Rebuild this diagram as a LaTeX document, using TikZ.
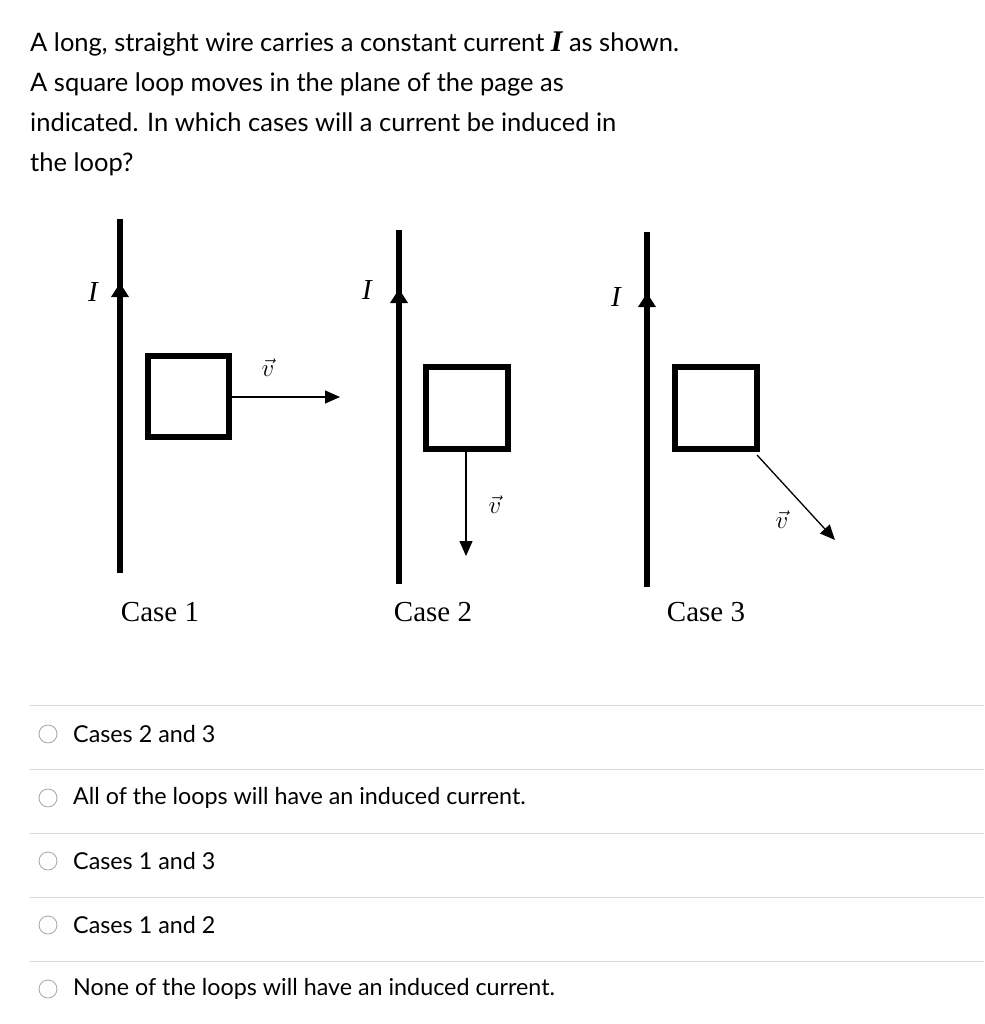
\documentclass[tikz,border=0pt]{standalone}
\usepackage{fontspec}
\setmainfont{Lato}
\newfontfamily\tnr{Liberation Serif}
\usetikzlibrary{arrows.meta}
\begin{document}
\begin{tikzpicture}[x=1pt,y=-1pt,
  wire/.style={line width=5.5pt},
  loopsq/.style={line width=6pt},
  vel/.style={line width=1.3pt,-{Triangle[length=15pt,width=13pt]}},
  lbl/.style={font=\tnr\fontsize{29}{32}\selectfont,inner sep=0},
  vlbl/.style={font=\tnr\fontsize{27}{30}\selectfont,inner sep=0},
  qtxt/.style={anchor=base west,inner sep=0,font=\fontsize{25.5}{30}\selectfont},
  opt/.style={anchor=west,inner sep=0,font=\fontsize{23.3}{28}\selectfont},
  rad/.style={draw=gray!70,line width=0.8pt,circle,minimum size=18pt,inner sep=0},
  sep/.style={draw=gray!30,line width=0.8pt}]
\useasboundingbox (0,0) rectangle (984,1024);
\fill[white] (0,0) rectangle (984,1024);
% question
\node[qtxt] (q1) at (30,52) {A long, straight wire carries a constant current {\tnr\bfseries\itshape\fontsize{30}{30}\selectfont I} as shown.};
\node[qtxt] (q2) at (30,92) {A square loop moves in the plane of the page as};
\node[qtxt] (q3) at (30,132) {indicated. In which cases will a current be induced in};
\node[qtxt] (q4) at (30,172) {the loop?};
% Case 1
\coordinate (w1t) at (120,219); \coordinate (w1b) at (120,573);
\draw[wire] (w1b) -- (w1t);
\fill (120,283) -- (111,297) -- (129,297) -- cycle;
\node[lbl] (I1) at (93,292) {\itshape I};
\draw[loopsq] (148,356) rectangle (229,437);
\coordinate (a1s) at (232,397); \coordinate (a1e) at (340,397);
\draw[vel] (a1s) -- (a1e);
\node[vlbl] (v1) at (268,368) {$\vec{v}$};
\node[lbl] (c1) at (160,612) {Case 1};
% Case 2
\coordinate (w2t) at (399,230); \coordinate (w2b) at (399,584);
\draw[wire] (w2b) -- (w2t);
\fill (399,289) -- (390,303) -- (408,303) -- cycle;
\node[lbl] (I2) at (367,290) {\itshape I};
\draw[loopsq] (426,367) rectangle (508,449);
\coordinate (a2s) at (466,452); \coordinate (a2e) at (466,556);
\draw[vel] (a2s) -- (a2e);
\node[vlbl] (v2) at (495,505) {$\vec{v}$};
\node[lbl] (c2) at (433,612) {Case 2};
% Case 3
\coordinate (w3t) at (647,232); \coordinate (w3b) at (647,587);
\draw[wire] (w3b) -- (w3t);
\fill (647,293) -- (638,307) -- (656,307) -- cycle;
\node[lbl] (I3) at (616,297) {\itshape I};
\draw[loopsq] (675,367) rectangle (757,449);
\coordinate (a3s) at (757,455); \coordinate (a3e) at (835,540);
\draw[vel] (a3s) -- (a3e);
\node[vlbl] (v3) at (782,520) {$\vec{v}$};
\node[lbl] (c3) at (706,612) {Case 3};
% options
\foreach \y in {705,769,833,897,961} \draw[sep] (30,\y) -- (984,\y);
\node[rad] (r1) at (48,734) {}; \node[opt] (o1) at (73,734) {Cases 2 and 3};
\node[rad] (r2) at (48,798) {}; \node[opt] (o2) at (73,798) {All of the loops will have an induced current.};
\node[rad] (r3) at (48,861) {}; \node[opt] (o3) at (73,861) {Cases 1 and 3};
\node[rad] (r4) at (48,925) {}; \node[opt] (o4) at (73,925) {Cases 1 and 2};
\node[rad] (r5) at (48,989) {}; \node[opt] (o5) at (73,989) {None of the loops will have an induced current.};
\end{tikzpicture}
\end{document}
